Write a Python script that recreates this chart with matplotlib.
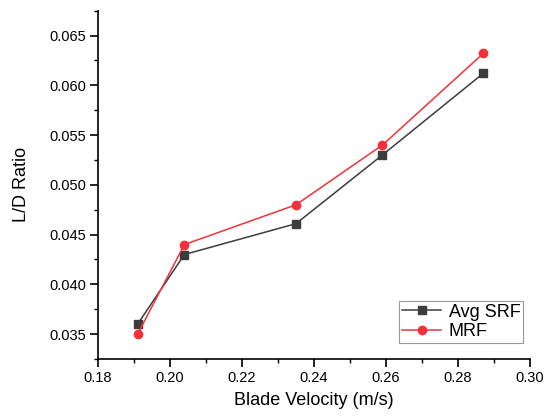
import matplotlib
matplotlib.use('Agg')
import matplotlib.pyplot as plt
from matplotlib.ticker import MultipleLocator

plt.rcParams['font.family'] = ['Liberation Sans', 'DejaVu Sans']

velocity = [0.191, 0.204, 0.235, 0.259, 0.287]
avg_srf = [0.0360, 0.0430, 0.0461, 0.0530, 0.0612]
mrf = [0.0350, 0.0440, 0.0480, 0.0540, 0.0632]

fig = plt.figure(figsize=(5.5, 4.16), dpi=100)
ax = fig.add_axes([98/550, 1 - 359/416, (530-98)/550, (359-10.7)/416])

ax.plot(velocity, avg_srf, color='#3c3c3c', marker='s', markersize=5.2, lw=1.1, label='Avg SRF')
ax.plot(velocity, mrf, color='#f2323a', marker='o', markersize=6, lw=1.1, label='MRF')

ax.set_xlim(0.18, 0.30)
ax.set_ylim(0.0325, 0.0675)
ax.xaxis.set_major_locator(MultipleLocator(0.02))
ax.xaxis.set_minor_locator(MultipleLocator(0.01))
ax.yaxis.set_major_locator(MultipleLocator(0.005))
ax.yaxis.set_minor_locator(MultipleLocator(0.0025))
ax.xaxis.set_major_formatter(plt.FormatStrFormatter('%.2f'))
ax.yaxis.set_major_formatter(plt.FormatStrFormatter('%.3f'))

for s in ['top', 'right']:
    ax.spines[s].set_visible(False)
for s in ['left', 'bottom']:
    ax.spines[s].set_linewidth(1.2)
ax.tick_params(which='major', direction='out', length=5.5, width=1.2, labelsize=10.5, pad=3)
ax.tick_params(which='minor', direction='out', length=3, width=1.0)

ax.set_xlabel('Blade Velocity (m/s)', fontsize=13, labelpad=5)
ax.set_ylabel('L/D Ratio', fontsize=13, labelpad=14)

leg = ax.legend(loc='lower right', bbox_to_anchor=(0.984, 0.046), fontsize=13,
                fancybox=False, framealpha=1, edgecolor='#999999',
                handlelength=2.2, borderpad=0.15, labelspacing=0.15,
                handletextpad=0.4, borderaxespad=0)
leg.get_frame().set_linewidth(0.8)

fig.savefig('out.png', dpi=100)
